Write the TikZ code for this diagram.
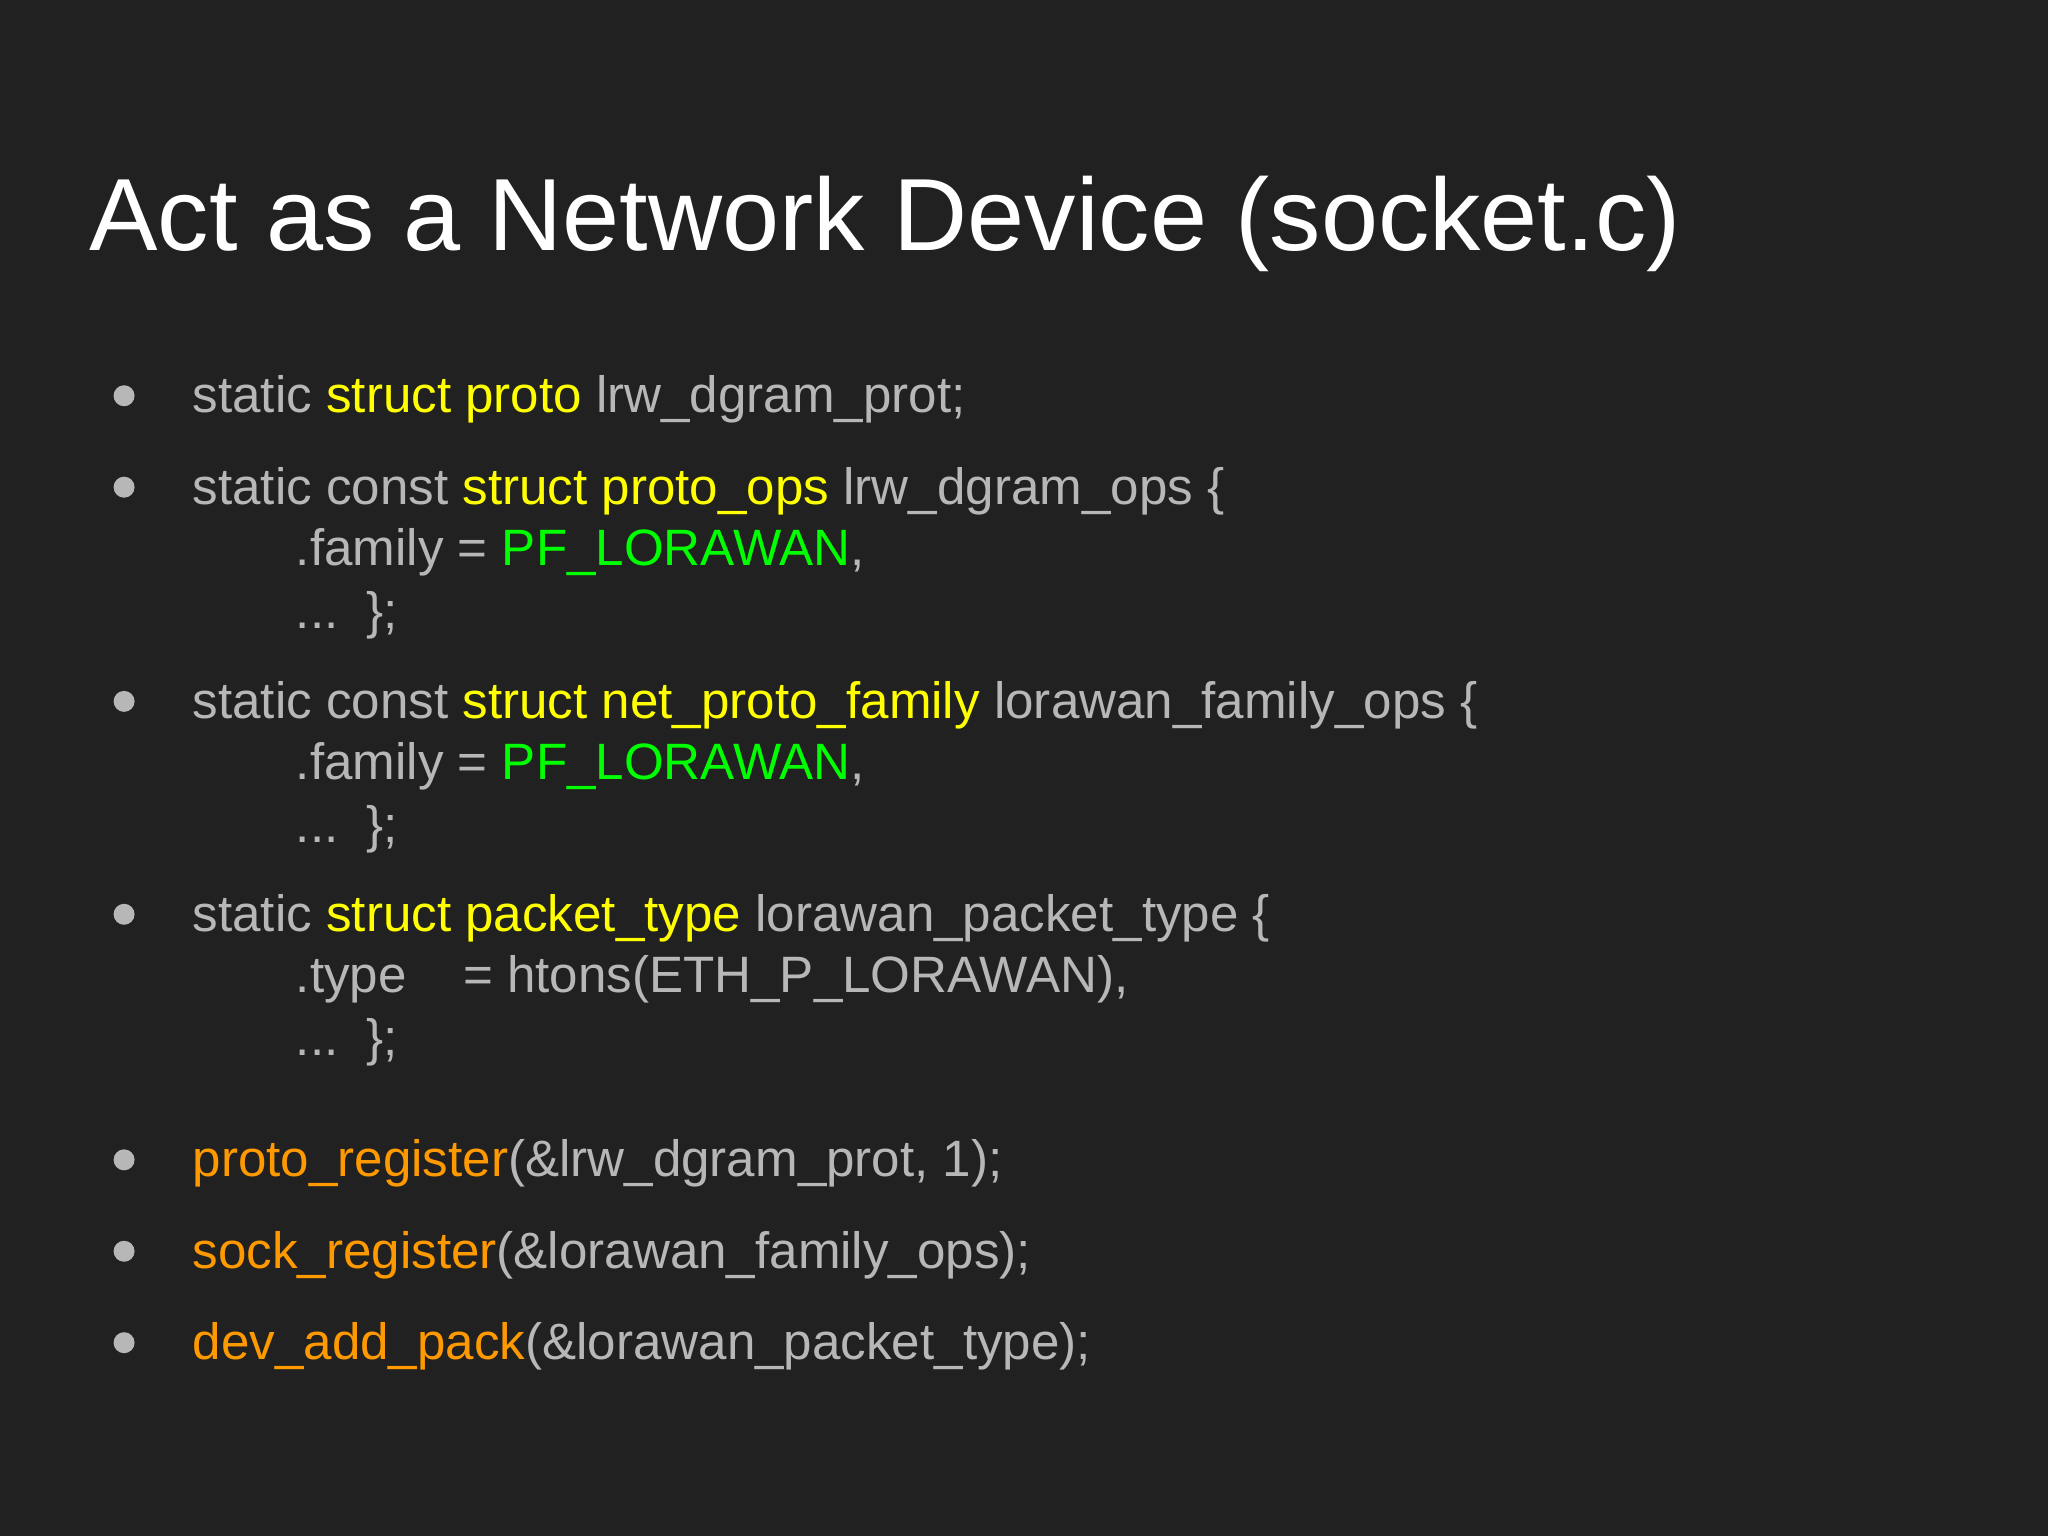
\documentclass[tikz,border=0pt]{standalone}
\usepackage{fontspec}
\setmainfont{Liberation Sans}
\definecolor{bg}{HTML}{212121}
\definecolor{gr}{HTML}{B7B7B7}
\definecolor{yl}{HTML}{FFFF00}
\definecolor{gn}{HTML}{00FF00}
\definecolor{og}{HTML}{FF9900}
\tikzset{ln/.style={anchor=base west,inner sep=0pt,text=gr,font=\fontsize{14.55}{16}\selectfont},
 bul/.style={circle,fill=gr,minimum size=0.21cm,inner sep=0pt}}
\begin{document}
\begin{tikzpicture}[x=0.01306cm,y=-0.01306cm]
\fill[bg] (0,0) rectangle (1568,1176);
\useasboundingbox (0,0) rectangle (1568,1176);
\node[anchor=base west,inner sep=0pt,text=white,font=\fontsize{29.2}{32}\selectfont] (title) at (68,192) {Act as a Network Device (socket.c)};
\foreach \y/\n in {303/b1,373/b2,537/b3,700/b4,888/b5,958/b6,1028/b7} \node[bul] (\n) at (95,\y) {};
\node[ln] (l1) at (147,316) {static \textcolor{yl}{struct proto} lrw\_dgram\_prot;};
\node[ln] (l2) at (147,386) {static const \textcolor{yl}{struct proto\_ops} lrw\_dgram\_ops \{};
\node[ln] (l3) at (226,433) {.family = \textcolor{gn}{PF\_LORAWAN},};
\node[ln] (l4) at (226,481) {...\ \ \};};
\node[ln] (l5) at (147,550) {static const \textcolor{yl}{struct net\_proto\_family} lorawan\_family\_ops \{};
\node[ln] (l6) at (226,597) {.family = \textcolor{gn}{PF\_LORAWAN},};
\node[ln] (l7) at (226,645) {...\ \ \};};
\node[ln] (l8) at (147,713) {static \textcolor{yl}{struct packet\_type} lorawan\_packet\_type \{};
\node[ln] (l9) at (226,760) {.type};
\node[ln] (l9b) at (354,760) {= htons(ETH\_P\_LORAWAN),};
\node[ln] (l10) at (226,808) {...\ \ \};};
\node[ln] (l11) at (147,901) {\textcolor{og}{proto\_register}(\&lrw\_dgram\_prot, 1);};
\node[ln] (l12) at (147,971) {\textcolor{og}{sock\_register}(\&lorawan\_family\_ops);};
\node[ln] (l13) at (147,1041) {\textcolor{og}{dev\_add\_pack}(\&lorawan\_packet\_type);};
\end{tikzpicture}
\end{document}
